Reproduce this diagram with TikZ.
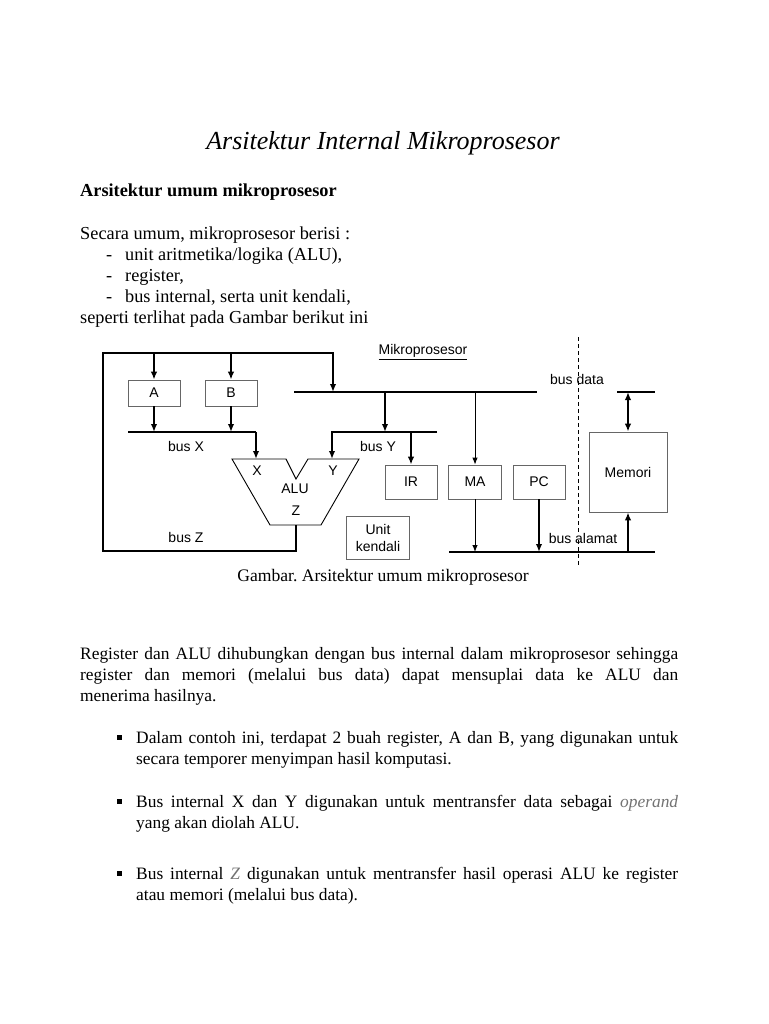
\documentclass[tikz,border=0pt]{standalone}
\usepackage{fontspec}
\setmainfont{Liberation Serif}
\setsansfont{Liberation Sans}
\usetikzlibrary{arrows,arrows.meta,positioning}
\frenchspacing
\tikzstyle{reg}=[draw=black!60,line width=0.8pt,minimum width=52pt,minimum height=26pt,inner sep=0pt,font=\sffamily\fontsize{14}{16}\selectfont]
\tikzstyle{bus}=[line width=1.8pt]
\tikzstyle{wire}=[line width=1.6pt,-{Latex[length=8pt,width=6.5pt]}]
\tikzstyle{thinwire}=[line width=0.9pt,-{Latex[length=7pt,width=5.5pt]}]
\tikzstyle{lbl}=[inner sep=0pt,font=\sffamily\fontsize{14}{16}\selectfont]
\tikzstyle{border}=[line width=1pt,dash pattern=on 4pt off 3pt]
\tikzstyle{body}=[inner sep=0pt,anchor=north west,align=left,font=\fontsize{17.4}{21.3}\selectfont]
\tikzstyle{topbody}=[body,font=\fontsize{18.3}{21}\selectfont]
\newcommand{\sqbul}{\makebox[19pt][l]{\raisebox{3.5pt}{\rule{4.5pt}{4.5pt}}}}
\newcommand{\jline}[2]{\makebox[#1][s]{#2}}
\newcommand{\dashitem}{\makebox[45pt][l]{\hspace*{26pt}-}}

\begin{document}
\begin{tikzpicture}[x=1pt,y=-1pt]
\useasboundingbox[fill=white] (0,0) rectangle (768,1024);

% heading and opening text
\node[inner sep=0pt,font=\itshape\fontsize{26}{30}\selectfont] (title) at (383,143) {Arsitektur Internal Mikroprosesor};
\node[topbody,font=\bfseries\fontsize{18.3}{21}\selectfont] (sub) at (80,184) {Arsitektur umum mikroprosesor};
\node[topbody] (intro) at (80,227) {Secara umum, mikroprosesor berisi :\\
  \dashitem unit aritmetika/logika (ALU),\\
  \dashitem register,\\
  \dashitem bus internal, serta unit kendali,\\
  seperti terlihat pada Gambar berikut ini};

% registers and memory
\node[reg] (A) at (154,393) {A};
\node[reg] (B) at (231,393) {B};
\node[reg,minimum height=34pt] (IR) at (411,482) {IR};
\node[reg,minimum height=34pt,minimum width=53pt] (MA) at (475,482) {MA};
\node[reg,minimum height=34pt] (PC) at (539,482) {PC};
\node[reg,minimum width=78pt,minimum height=80pt] (mem) at (628,472) {Memori};
\node[reg,minimum width=63pt,minimum height=43pt,align=center,font=\sffamily\fontsize{14}{17}\selectfont] (cu) at (378,538) {Unit\\kendali};

% bus end points
\coordinate (zA) at (103,353);
\coordinate (zB) at (333,353);
\coordinate (zC) at (103,551);
\coordinate (zD) at (296,551);
\coordinate (dataL) at (294,392);
\coordinate (dataR) at (537,392);
\coordinate (xL) at (128,432);
\coordinate (xR) at (256,432);
\coordinate (yTap) at (385,392);
\coordinate (yL) at (332,432);
\coordinate (yR) at (437,432);
\coordinate (adrL) at (449,552);
\coordinate (adrR) at (655,552);
\coordinate (mdL) at (617,392);
\coordinate (mdR) at (655,392);
\coordinate (edgeT) at (578,337);
\coordinate (edgeB) at (578,568);

% ALU
\coordinate (aluX) at (256,459);
\coordinate (aluY) at (332,459);
\coordinate (aluZ) at (296,525);
\draw[line width=0.9pt] (232,459) -- (286,459) -- (296,479) -- (308,459) -- (359,459) -- (321,525) -- (270,525) -- cycle;
\node[lbl] (alu) at (295,489) {ALU};
\node[lbl] (inX) at (257,471) {X};
\node[lbl] (inY) at (333,471) {Y};
\node[lbl] (outZ) at (296,511) {Z};

\node[lbl] (lx) at (186,446) {bus X};
\node[lbl] (ly) at (378,446) {bus Y};
\node[lbl] (lz) at (186,537) {bus Z};
\node[lbl] (ld) at (577,379) {bus data};
\node[lbl] (la) at (583,538) {bus alamat};
\node[lbl] (mp) at (423,352) {\underline{Mikroprosesor}};

% buses
\draw[bus] (dataL) -- (dataR);
\draw[bus] (xL) -- (xR);
\draw[bus] (adrL) -- (adrR);
\draw[bus] (mdL) -- (mdR);
\draw[wire] (aluZ) -- (zD) -- (zC) -- (zA) -- (zB) -- (zB |- dataL);
\draw[wire] (A.north |- zA) -- (A.north);
\draw[wire] (B.north |- zA) -- (B.north);
\draw[wire] (A.south) -- (A.south |- xL);
\draw[wire] (B.south) -- (B.south |- xL);
\draw[wire] (xR) -- (aluX);
\draw[wire] (yTap) -- (yTap |- yL);
\draw[wire] (yR) -- (yL) -- (aluY);
\draw[wire] (IR.north |- yL) -- (IR.north);
\draw[thinwire] (MA.north |- dataL) -- (MA.north);
\draw[thinwire] (MA.south) -- (MA.south |- adrL);
\draw[wire] (PC.south) -- (PC.south |- adrL);
\draw[wire] (mem.south |- adrL) -- (mem.south);
\draw[wire,{Latex[length=8pt,width=6.5pt]}-{Latex[length=8pt,width=6.5pt]}] (mem.north) -- (mem.north |- mdL);

% chip edge, broken by the bus labels
\draw[border] (edgeT) -- ([yshift=-2pt]edgeT |- ld.north);
\draw[border] ([yshift=3pt]edgeT |- ld.south) -- ([yshift=-2pt]edgeT |- la.north);
\draw[border] ([yshift=3pt]edgeT |- la.south) -- (edgeB);

% caption and explanation
\node[inner sep=0pt,font=\fontsize{17.6}{21.2}\selectfont] (cap) at (383,577) {Gambar. Arsitektur umum mikroprosesor};
\node[body] (para) at (80,647) {\jline{598pt}{Register dan ALU dihubungkan dengan bus internal dalam mikroprosesor sehingga}\\
  \jline{598pt}{register dan memori (melalui bus data) dapat mensuplai data ke ALU dan}\\
  menerima hasilnya.};
\node[body] (it1) at (117,731) {\sqbul\jline{542pt}{Dalam contoh ini, terdapat 2 buah register, A dan B, yang digunakan untuk}\\
  \hspace*{19pt}secara temporer menyimpan hasil komputasi.};
\node[body] (it2) at (117,795) {\sqbul\jline{542pt}{Bus internal X dan Y digunakan untuk mentransfer data sebagai \textcolor{black!55}{\textit{operand}}}\\
  \hspace*{19pt}yang akan diolah ALU.};
\node[body] (it3) at (117,867) {\sqbul\jline{542pt}{Bus internal \textcolor{black!55}{\textit{Z}} digunakan untuk mentransfer hasil operasi ALU ke register}\\
  \hspace*{19pt}atau memori (melalui bus data).};
\end{tikzpicture}
\end{document}
